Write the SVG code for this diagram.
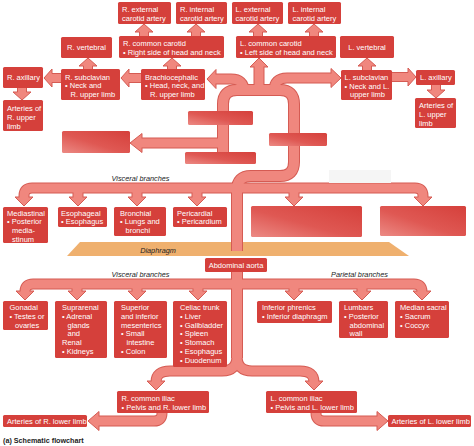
<svg xmlns="http://www.w3.org/2000/svg" xmlns:xlink="http://www.w3.org/1999/xlink" width="474" height="446" viewBox="0 0 474 446">
<style>
.box{fill:#d5403b}
.t{font-family:"Liberation Sans",Arial,sans-serif;font-size:7.5px;fill:#fff}
.tc{text-anchor:middle}
.lbl{font-family:"Liberation Sans",Arial,sans-serif;font-size:7.3px;font-style:italic;fill:#222}
.cap{font-family:"Liberation Sans",Arial,sans-serif;font-size:7.2px;font-weight:bold;fill:#222}
.po{fill:none;stroke:#d55b53;stroke-width:11}
.pf{fill:none;stroke:#f0877e;stroke-width:9}
.bo{fill:none;stroke:#d55b53;stroke-width:12}
.bf{fill:none;stroke:#f0877e;stroke-width:10}
.ah{fill:#f0877e;stroke:#d55b53;stroke-width:1;stroke-linejoin:round}
.blank{fill:url(#gb)}
</style>
<defs>
<linearGradient id="gb" x1="0" y1="1" x2="1" y2="0">
<stop offset="0" stop-color="#ec8a84"/>
<stop offset="0.45" stop-color="#df5853"/>
<stop offset="1" stop-color="#d5403b"/>
</linearGradient>
<path id="p1" d="M223,162 V104 Q223,90 237,90 H280 Q294,90 294,104 V162 Q294,176 280,176 H251 Q237,176 237,190 V251"/>
<path id="p7" d="M237,270 V358"/>
<path id="p2" d="M244,91 Q244,79 231,79 H215"/>
<path id="p3" d="M259,91 V66"/>
<path id="p4" d="M274,91 Q274,78 287,78 H332"/>
<path id="p5" d="M223,143 H141"/>
<path id="p6" d="M24,198 V196 Q24,188 32,188 H415 Q423,188 423,196 V198 M78,188 V198 M137,188 V198 M197,188 V198 M294,188 V198"/>
<path id="p8" d="M25,292 Q25,284 33,284 H414 Q422,284 422,292 M77,284 V292 M137,284 V292 M198,284 V292 M294,284 V292 M362,284 V292"/>
<path id="p9" d="M237,356 Q237,371 222,371 H170 Q156,371 156,382"/>
<path id="p10" d="M237,356 Q237,371 252,371 H300 Q314,371 314,382"/>
<path id="p11" d="M162,411 V413 Q162,421 154,421 H98"/>
<path id="p12" d="M316,411 V413 Q316,421 324,421 H378"/>
</defs>

<g id="diaphragm">
<polygon points="80,242 389,242 409,256 67,256" fill="#efb06e"/>
<text class="lbl" x="158" y="252.5" text-anchor="middle">Diaphragm</text>
</g>

<g id="connectors">
<g id="pipe-outlines">
<use xlink:href="#p1" class="bo"/>
<use xlink:href="#p7" class="bo"/>
<use xlink:href="#p2" class="po"/>
<use xlink:href="#p3" class="po"/>
<use xlink:href="#p4" class="po"/>
<use xlink:href="#p5" class="po"/>
<use xlink:href="#p6" class="po"/>
<use xlink:href="#p8" class="po"/>
<use xlink:href="#p9" class="po"/>
<use xlink:href="#p10" class="po"/>
<use xlink:href="#p11" class="po"/>
<use xlink:href="#p12" class="po"/>
</g>
<g id="pipe-heads">
<polygon class="ah" points="216,69.5 207,79 216,88.5"/>
<polygon class="ah" points="250,67 259,58 268,67"/>
<polygon class="ah" points="331,68.5 341,78 331,87.5"/>
<polygon class="ah" points="142,133.5 130,143 142,152.5"/>
<polygon class="ah" points="15,197 24,206 33,197"/>
<polygon class="ah" points="69,197 78,206 87,197"/>
<polygon class="ah" points="128,197 137,206 146,197"/>
<polygon class="ah" points="188,197 197,206 206,197"/>
<polygon class="ah" points="285,197 294,206 303,197"/>
<polygon class="ah" points="414,197 423,206 432,197"/>
<polygon class="ah" points="16,291 25,300 34,291"/>
<polygon class="ah" points="68,291 77,300 86,291"/>
<polygon class="ah" points="128,291 137,300 146,291"/>
<polygon class="ah" points="189,291 198,300 207,291"/>
<polygon class="ah" points="285,291 294,300 303,291"/>
<polygon class="ah" points="353,291 362,300 371,291"/>
<polygon class="ah" points="413,291 422,300 431,291"/>
<polygon class="ah" points="147,381 156,390 165,381"/>
<polygon class="ah" points="305,381 314,390 323,381"/>
<polygon class="ah" points="99,411.5 88,421 99,430.5"/>
<polygon class="ah" points="377,411.5 388,421 377,430.5"/>
</g>
<g id="pipe-fills">
<use xlink:href="#p1" class="bf"/>
<use xlink:href="#p7" class="bf"/>
<use xlink:href="#p2" class="pf"/>
<use xlink:href="#p3" class="pf"/>
<use xlink:href="#p4" class="pf"/>
<use xlink:href="#p5" class="pf"/>
<use xlink:href="#p6" class="pf"/>
<use xlink:href="#p8" class="pf"/>
<use xlink:href="#p9" class="pf"/>
<use xlink:href="#p10" class="pf"/>
<use xlink:href="#p11" class="pf"/>
<use xlink:href="#p12" class="pf"/>
</g>
<g id="block-arrows">
<polygon class="ah" points="139.5,37 139.5,32 135,32 144,24 153,32 148.5,32 148.5,37"/>
<polygon class="ah" points="191.5,37 191.5,32 187,32 196,24 205,32 200.5,32 200.5,37"/>
<polygon class="ah" points="253.5,37 253.5,32 249,32 258,24 267,32 262.5,32 262.5,37"/>
<polygon class="ah" points="309.5,37 309.5,32 305,32 314,24 323,32 318.5,32 318.5,37"/>
<polygon class="ah" points="167.5,70 167.5,66 163,66 172,58 181,66 176.5,66 176.5,70"/>
<polygon class="ah" points="83.5,70 83.5,66 79,66 88,58 97,66 92.5,66 92.5,70"/>
<polygon class="ah" points="362.5,71 362.5,66 358,66 367,58 376,66 371.5,66 371.5,71"/>
<polygon class="ah" points="142,73.5 129,73.5 129,69 121,78 129,87 129,82.5 142,82.5"/>
<polygon class="ah" points="62,73.5 52,73.5 52,69 44,78 52,87 52,82.5 62,82.5"/>
<polygon class="ah" points="391,72.5 408,72.5 408,68 416,77 408,86 408,81.5 391,81.5"/>
<polygon class="ah" points="17.5,87 17.5,92 13,92 22,100 31,92 26.5,92 26.5,87"/>
<polygon class="ah" points="431.5,84 431.5,90 427,90 436,98 445,90 440.5,90 440.5,84"/>
</g>
</g>

<g id="r-ext-carotid"><rect class="box" x="118" y="2" width="53" height="22" rx="1.5"/><text class="t"><tspan x="122" y="12">R. external</tspan><tspan x="122" y="21">carotid artery</tspan></text></g>
<g id="r-int-carotid"><rect class="box" x="176" y="2" width="51" height="22" rx="1.5"/><text class="t"><tspan x="180" y="12">R. internal</tspan><tspan x="180" y="21">carotid artery</tspan></text></g>
<g id="l-ext-carotid"><rect class="box" x="232" y="2" width="51" height="22" rx="1.5"/><text class="t"><tspan x="235.5" y="12">L. external</tspan><tspan x="235.5" y="21">carotid artery</tspan></text></g>
<g id="l-int-carotid"><rect class="box" x="288" y="2" width="53" height="22" rx="1.5"/><text class="t"><tspan x="292.5" y="12">L. internal</tspan><tspan x="292.5" y="21">carotid artery</tspan></text></g>

<g id="r-vertebral"><rect class="box" x="61" y="37" width="51" height="21" rx="1.5"/><text class="t tc" x="86.5" y="50">R. vertebral</text></g>
<g id="r-common-carotid"><rect class="box" x="119" y="36" width="105" height="22" rx="1.5"/><text class="t"><tspan x="123" y="45.5">R. common carotid</tspan><tspan x="123" y="54.5">• Right side of head and neck</tspan></text></g>
<g id="l-common-carotid"><rect class="box" x="236" y="36" width="100" height="22" rx="1.5"/><text class="t"><tspan x="240" y="45.5">L. common carotid</tspan><tspan x="240" y="54.5">• Left side of head and neck</tspan></text></g>
<g id="l-vertebral"><rect class="box" x="340" y="36" width="54" height="22" rx="1.5"/><text class="t tc" x="367" y="50">L. vertebral</text></g>

<g id="r-axillary"><rect class="box" x="3" y="67" width="40" height="21" rx="1.5"/><text class="t" x="7" y="80">R. axillary</text></g>
<g id="r-subclavian"><rect class="box" x="61" y="69" width="59" height="31" rx="1.5"/><text class="t"><tspan x="65" y="79.5">R. subclavian</tspan><tspan x="65" y="88.3">• Neck and</tspan><tspan x="70.5" y="97.1">R. upper limb</tspan></text></g>
<g id="brachiocephalic"><rect class="box" x="141" y="69" width="64" height="31" rx="1.5"/><text class="t"><tspan x="145" y="79.5">Brachiocephalic</tspan><tspan x="145" y="88.3">• Head, neck, and</tspan><tspan x="150" y="97.1">R. upper limb</tspan></text></g>
<g id="l-subclavian"><rect class="box" x="341" y="70" width="51" height="30" rx="1.5"/><text class="t"><tspan x="344.5" y="80">L. subclavian</tspan><tspan x="344.5" y="88.7">• Neck and L.</tspan><tspan x="350" y="97.4">upper limb</tspan></text></g>
<g id="l-axillary"><rect class="box" x="416" y="70" width="39" height="15" rx="1.5"/><text class="t" x="420" y="80.3">L. axillary</text></g>
<g id="r-upper-limb"><rect class="box" x="3" y="100" width="40" height="31" rx="1.5"/><text class="t"><tspan x="7" y="111">Arteries of</tspan><tspan x="7" y="119.8">R. upper</tspan><tspan x="7" y="128.6">limb</tspan></text></g>
<g id="l-upper-limb"><rect class="box" x="415" y="98" width="41" height="30" rx="1.5"/><text class="t"><tspan x="419" y="108">Arteries of</tspan><tspan x="419" y="116.8">L. upper</tspan><tspan x="419" y="125.6">limb</tspan></text></g>

<g id="blank-1"><rect class="blank" x="62" y="131" width="68" height="22" rx="1.5"/></g>
<g id="blank-2"><rect class="blank" x="188" y="111" width="65" height="14" rx="1.5"/></g>
<g id="blank-3"><rect class="blank" x="185" y="152" width="71" height="12" rx="1.5"/></g>
<g id="blank-4"><rect class="blank" x="269" y="133" width="58" height="13" rx="1.5"/></g>
<g id="blank-5"><rect class="blank" x="251" y="206" width="111" height="31" rx="1.5"/></g>
<g id="blank-6"><rect class="blank" x="380" y="206" width="86" height="30" rx="1.5"/></g>
<g id="blank-label"><rect x="329" y="170" width="62" height="13" fill="#f5f5f5"/></g>

<text class="lbl" x="140.5" y="180.5" text-anchor="middle">Visceral branches</text>

<g id="mediastinal"><rect class="box" x="3" y="207" width="45" height="36" rx="1.5"/><text class="t"><tspan x="7" y="215.5">Mediastinal</tspan><tspan x="7" y="224.3">• Posterior</tspan><tspan x="12" y="233.1">media-</tspan><tspan x="12" y="241.9">stinum</tspan></text></g>
<g id="esophageal"><rect class="box" x="58" y="207" width="49" height="20" rx="1.5"/><text class="t"><tspan x="61" y="215.5">Esophageal</tspan><tspan x="61" y="224.3">• Esophagus</tspan></text></g>
<g id="bronchial"><rect class="box" x="114" y="207" width="52" height="29" rx="1.5"/><text class="t"><tspan x="120" y="215.5">Bronchial</tspan><tspan x="120" y="224.3">• Lungs and</tspan><tspan x="125.5" y="233.1">bronchi</tspan></text></g>
<g id="pericardial"><rect class="box" x="173" y="207" width="54" height="20" rx="1.5"/><text class="t"><tspan x="177" y="215.5">Pericardial</tspan><tspan x="177" y="224.3">• Pericardium</tspan></text></g>

<g id="abdominal-aorta"><rect class="box" x="205" y="258" width="62" height="14" rx="1.5"/><text class="t tc" x="236" y="268">Abdominal aorta</text></g>

<text class="lbl" x="140.5" y="276.5" text-anchor="middle">Visceral branches</text>
<text class="lbl" x="359.5" y="276.5" text-anchor="middle">Parietal branches</text>

<g id="gonadal"><rect class="box" x="3" y="301" width="45" height="29" rx="1.5"/><text class="t"><tspan x="9.5" y="310">Gonadal</tspan><tspan x="9.5" y="318.8">• Testes or</tspan><tspan x="15" y="327.6">ovaries</tspan></text></g>
<g id="suprarenal"><rect class="box" x="55" y="301" width="52" height="57" rx="1.5"/><text class="t"><tspan x="62" y="310">Suprarenal</tspan><tspan x="62" y="318.8">• Adrenal</tspan><tspan x="67.5" y="327.6">glands</tspan><tspan x="67.5" y="336.4">and</tspan><tspan x="62" y="345.2">Renal</tspan><tspan x="62" y="354">• Kidneys</tspan></text></g>
<g id="mesenterics"><rect class="box" x="114" y="301" width="53" height="57" rx="1.5"/><text class="t"><tspan x="121" y="310">Superior</tspan><tspan x="121" y="318.8">and inferior</tspan><tspan x="121" y="327.6">mesenterics</tspan><tspan x="121" y="336.4">• Small</tspan><tspan x="126.5" y="345.2">intestine</tspan><tspan x="121" y="354">• Colon</tspan></text></g>
<g id="celiac-trunk"><rect class="box" x="173" y="301" width="54" height="66" rx="1.5"/><text class="t"><tspan x="180" y="310">Celiac trunk</tspan><tspan x="180" y="318.8">• Liver</tspan><tspan x="180" y="327.6">• Gallbladder</tspan><tspan x="180" y="336.4">• Spleen</tspan><tspan x="180" y="345.2">• Stomach</tspan><tspan x="180" y="354">• Esophagus</tspan><tspan x="180" y="362.8">• Duodenum</tspan></text></g>
<g id="inferior-phrenics"><rect class="box" x="257" y="301" width="75" height="22" rx="1.5"/><text class="t"><tspan x="262" y="310">Inferior phrenics</tspan><tspan x="262" y="318.8">• Inferior diaphragm</tspan></text></g>
<g id="lumbars"><rect class="box" x="339" y="301" width="49" height="37" rx="1.5"/><text class="t"><tspan x="344" y="310">Lumbars</tspan><tspan x="344" y="318.8">• Posterior</tspan><tspan x="349.5" y="327.6">abdominal</tspan><tspan x="349.5" y="336.4">wall</tspan></text></g>
<g id="median-sacral"><rect class="box" x="395" y="301" width="54" height="37" rx="1.5"/><text class="t"><tspan x="400" y="310">Median sacral</tspan><tspan x="400" y="318.8">• Sacrum</tspan><tspan x="400" y="327.6">• Coccyx</tspan></text></g>

<g id="r-common-iliac"><rect class="box" x="117" y="391" width="92" height="22" rx="1.5"/><text class="t"><tspan x="121.5" y="401">R. common iliac</tspan><tspan x="121.5" y="410">• Pelvis and R. lower limb</tspan></text></g>
<g id="l-common-iliac"><rect class="box" x="266" y="391" width="91" height="22" rx="1.5"/><text class="t"><tspan x="270.5" y="401">L. common iliac</tspan><tspan x="270.5" y="410">• Pelvis and L. lower limb</tspan></text></g>
<g id="r-lower-limb"><rect class="box" x="3" y="415" width="84" height="12" rx="1.5"/><text class="t" x="7" y="423.7">Arteries of R. lower limb</text></g>
<g id="l-lower-limb"><rect class="box" x="388" y="415" width="83" height="12" rx="1.5"/><text class="t" x="391.5" y="423.7">Arteries of L. lower limb</text></g>

<text class="cap" x="3" y="443">(a) Schematic flowchart</text>
</svg>
